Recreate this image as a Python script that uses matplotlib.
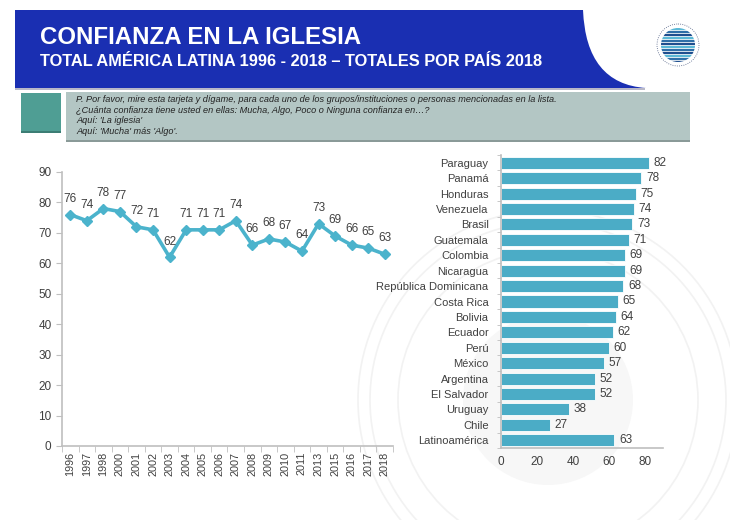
import numpy as np
import matplotlib
matplotlib.use("Agg")
import matplotlib.pyplot as plt
from matplotlib.patches import PathPatch, Rectangle, Circle
from matplotlib.path import Path

plt.rcParams['font.family'] = ['Liberation Sans', 'DejaVu Sans']

# data
years = ['1996', '1997', '1998', '2000', '2001', '2002', '2003', '2004', '2005', '2006',
         '2007', '2008', '2009', '2010', '2011', '2013', '2015', '2016', '2017', '2018']
trend = [76, 74, 78, 77, 72, 71, 62, 71, 71, 71, 74, 66, 68, 67, 64, 73, 69, 66, 65, 63]

countries = ['Paraguay', 'Panamá', 'Honduras', 'Venezuela', 'Brasil', 'Guatemala',
             'Colombia', 'Nicaragua', 'República Dominicana', 'Costa Rica', 'Bolivia',
             'Ecuador', 'Perú', 'México', 'Argentina', 'El Salvador', 'Uruguay', 'Chile',
             'Latinoamérica']
country_vals = [82, 78, 75, 74, 73, 71, 69, 69, 68, 65, 64, 62, 60, 57, 52, 52, 38, 27, 63]

title = 'CONFIANZA EN LA IGLESIA'
subtitle = 'TOTAL AMÉRICA LATINA 1996 - 2018 – TOTALES POR PAÍS 2018'
question = ['P. Por favor, mire esta tarjeta y dígame, para cada uno de los grupos/instituciones o personas mencionadas en la lista.',
            '¿Cuánta confianza tiene usted en ellas: Mucha, Algo, Poco o Ninguna confianza en…?',
            "Aquí: 'La iglesia'",
            "Aquí: 'Mucha' más 'Algo'."]

W, H = 730, 520
BLUE = '#1a2fb2'
LINE = '#4bb3cc'
BAR = '#4bacc6'
GREY = '#404040'


def fx(x):
    return x / W


def fy(y):
    return 1 - y / H


fig = plt.figure(figsize=(W / 100, H / 100), dpi=100)

# faint watermark seal behind the bar chart
bg = fig.add_axes([0, 0, 1, 1])
bg.set_xlim(0, W)
bg.set_ylim(H, 0)
bg.axis('off')
bg.set_zorder(-5)
bg.add_patch(Circle((548, 400), 85, color='#f7f7f7', lw=0))
for r in [190, 178, 150]:
    bg.add_patch(Circle((548, 400), r, fill=False, ec='#f2f2f2', lw=1.2))

# header banner
ov = fig.add_axes([0, 0, 1, 1])
ov.set_xlim(0, W)
ov.set_ylim(H, 0)
ov.axis('off')
ov.set_zorder(5)
verts = [(15, 10), (583, 10), (586, 84), (646, 88), (15, 88), (15, 10)]
codes = [Path.MOVETO, Path.LINETO, Path.CURVE3, Path.CURVE3, Path.LINETO, Path.CLOSEPOLY]
ov.add_patch(PathPatch(Path(verts, codes), fc=BLUE, ec='none'))
ov.add_patch(Rectangle((15, 88), 630, 2, fc='#b8b8c8', ec='none'))
ov.text(40, 38, title, color='white', fontsize=17.3, fontweight='bold', va='center')
ov.text(40, 61, subtitle, color='white', fontsize=11.8, fontweight='bold', va='center')

# logo
ov.add_patch(Circle((678, 45), 19, fc='white', ec='none'))
clip = Circle((678, 45), 17, transform=ov.transData)
for i, yy in enumerate(np.arange(29, 63, 3)):
    ln, = ov.plot([658, 698], [yy, yy], color=['#5ab8d6', '#2e6fa8', '#1f4f8f'][i % 3], lw=1.6)
    ln.set_clip_path(clip)
ov.add_patch(Circle((678, 45), 21, fill=False, ec='#4a5a80', lw=0.6, ls=':'))

# question box
ov.add_patch(Rectangle((21, 93), 40, 40, fc='#4f9e94', ec='none'))
ov.add_patch(Rectangle((21, 131), 40, 2, fc='#3c7d74', ec='none'))
ov.add_patch(Rectangle((66, 92), 624, 50, fc='#b3c6c4', ec='none'))
ov.add_patch(Rectangle((66, 140), 624, 2, fc='#8a9a98', ec='none'))
for i, q in enumerate(question):
    ov.text(76, 100 + i * 10.4, q, fontsize=6.6, style='italic', color='#222222', va='center')

# line chart
ax1 = fig.add_axes([fx(62), fy(446), fx(393) - fx(62), fy(172) - fy(446)])
x = np.arange(len(years))
ax1.plot(x, trend, color=LINE, lw=2.6, marker='D', ms=5.5, mfc=LINE, mec=LINE)
for xi, v in zip(x, trend):
    ax1.annotate(str(v), (xi, v), xytext=(0, 7), textcoords='offset points',
                 ha='center', va='bottom', fontsize=8.5, color=GREY)
ax1.set_xlim(-0.5, len(years) - 0.5)
ax1.set_ylim(0, 90)
ax1.set_yticks(range(0, 91, 10))
ax1.set_xticks(x)
ax1.set_xticklabels(years, rotation=90, fontsize=7.8, color=GREY)
ax1.set_xticks(np.arange(-0.5, len(years), 1), minor=True)
ax1.tick_params(axis='x', which='major', length=0, pad=4)
ax1.tick_params(axis='x', which='minor', length=4, color='#bfbfbf')
ax1.tick_params(axis='y', length=4, color='#bfbfbf', labelsize=8.5, labelcolor=GREY)
for s in ['top', 'right']:
    ax1.spines[s].set_visible(False)
for s in ['left', 'bottom']:
    ax1.spines[s].set_color('#bfbfbf')
    ax1.spines[s].set_linewidth(1.2)
ax1.patch.set_alpha(0)

# bar chart
ax2 = fig.add_axes([fx(501), fy(448), fx(663) - fx(501), fy(155) - fy(448)])
y = np.arange(len(countries))
ax2.barh(y, country_vals, height=0.78, color=BAR, edgecolor='white', lw=0.6)
for yi, v in zip(y, country_vals):
    ax2.text(v + 2.5, yi, str(v), va='center', ha='left', fontsize=8.5, color=GREY)
ax2.set_ylim(len(countries) - 0.5, -0.5)
ax2.set_xlim(0, 90)
ax2.set_xticks(range(0, 81, 20))
ax2.set_yticks(y)
ax2.set_yticklabels(countries, fontsize=8, color=GREY)
ax2.set_yticks(np.arange(-0.5, len(countries), 1), minor=True)
ax2.tick_params(axis='y', which='major', length=0, pad=9)
ax2.tick_params(axis='y', which='minor', length=3, color='#bfbfbf')
ax2.tick_params(axis='x', length=0, labelsize=8.5, labelcolor=GREY, pad=6)
for s in ['top', 'right']:
    ax2.spines[s].set_visible(False)
for s in ['left', 'bottom']:
    ax2.spines[s].set_color('#bfbfbf')
    ax2.spines[s].set_linewidth(1.2)
ax2.patch.set_alpha(0)

fig.savefig('out.png', dpi=100, facecolor='white')
